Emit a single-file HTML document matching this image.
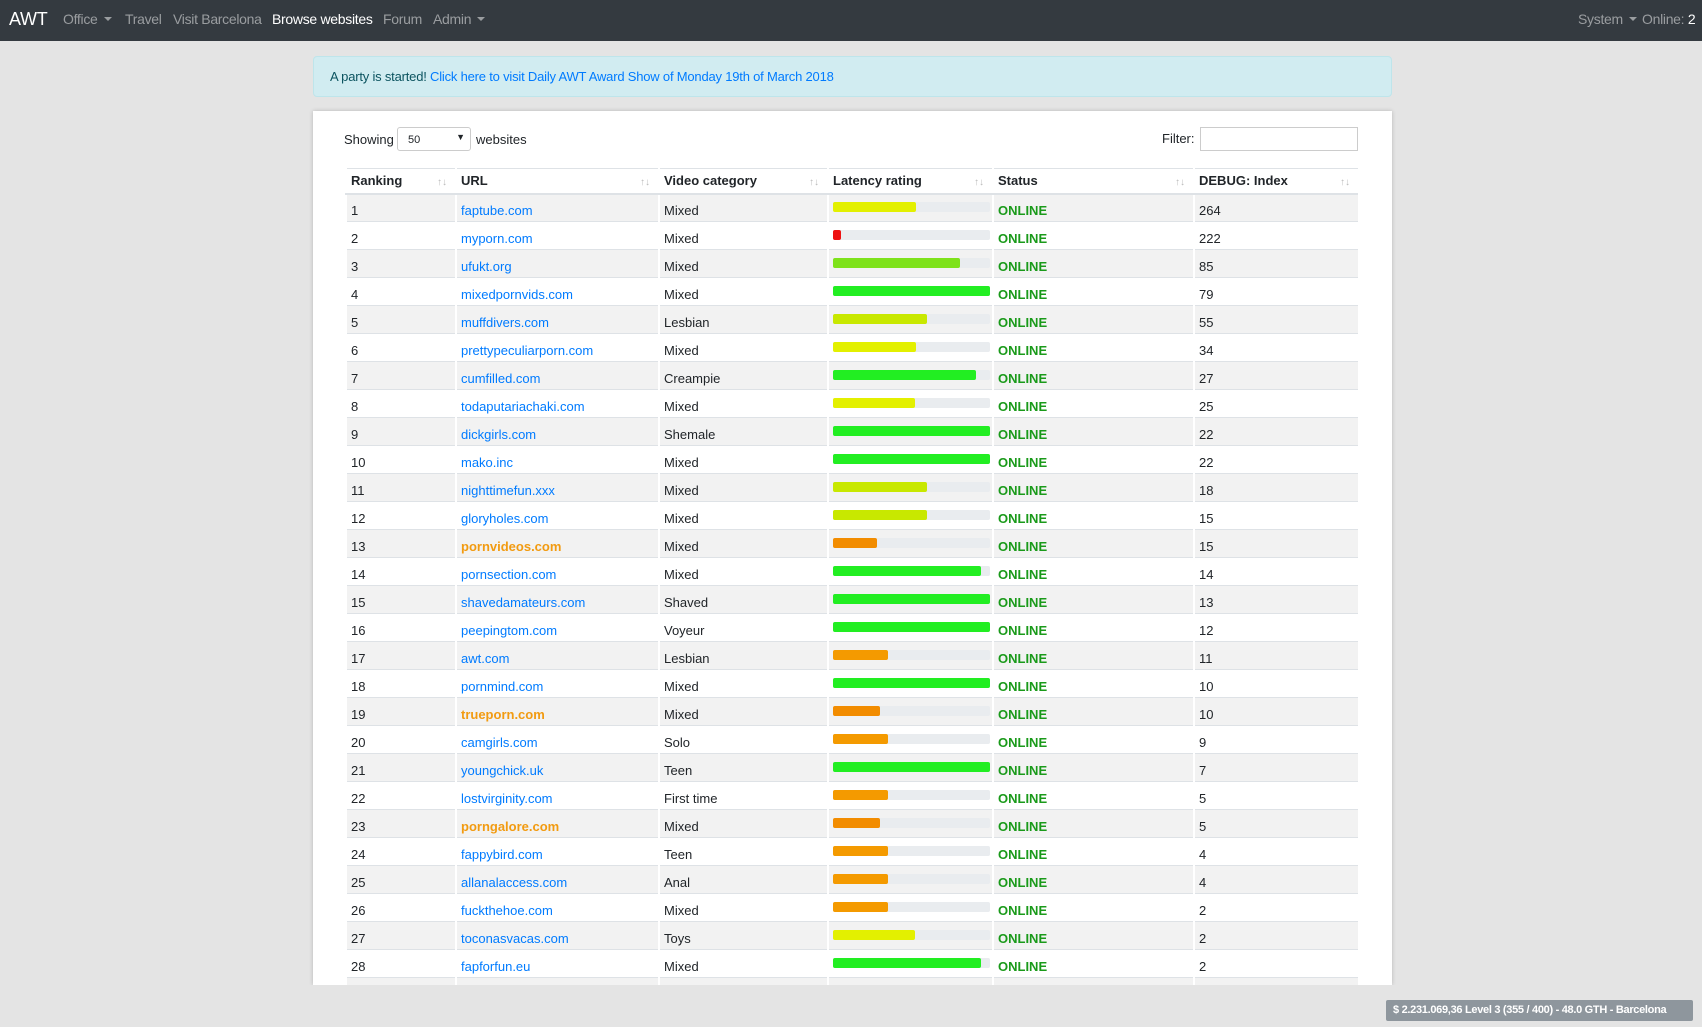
<!DOCTYPE html>
<html><head><meta charset="utf-8"><style>
*{box-sizing:border-box;margin:0;padding:0}
body{width:1702px;height:1027px;background:#e4e4e4;font-family:"Liberation Sans",sans-serif;font-size:13px;color:#212529;position:relative;overflow:hidden}
.nav{position:absolute;left:0;top:0;width:1702px;height:41px;background:#343a40}
.nav span{position:absolute;top:11px;font-size:14px;color:#9a9da0;letter-spacing:-0.3px}
.nav .b{color:#fff}
.car{display:inline-block;width:0;height:0;border-left:4px solid transparent;border-right:4px solid transparent;border-top:4px solid #9a9da0;margin-left:6px;vertical-align:3px}
.alert{position:absolute;left:313px;top:56px;width:1079px;height:41px;background:#d1ecf1;border:1px solid #bee5eb;border-radius:4px;padding:12px 16px;color:#0c5460;font-size:13px;letter-spacing:-0.2px}
a{color:#007bff;text-decoration:none}
.panel{position:absolute;left:313px;top:111px;width:1079px;height:874px;background:#fff;box-shadow:0 0 4px rgba(0,0,0,.2)}
.sel{position:absolute;left:397px;top:127px;width:74px;height:24px;border:1px solid #ccc;border-radius:3px;font-size:11px;padding:6px 10px}
.inp{position:absolute;left:1200px;top:127px;width:158px;height:24px;border:1px solid #ccc}
table{position:absolute;left:345px;top:168px;border-collapse:collapse;table-layout:fixed;width:1012px}
th{height:25px;text-align:left;font-weight:bold;padding:0 4px;border-top:1px solid #dee2e6;border-bottom:2px solid #dee2e6;border-left:2px solid #fff;position:relative}
th i{position:absolute;right:8px;top:8px;font-style:normal;color:#bbb;font-size:10px}
td{height:28px;padding:6px 4px 0;border-top:1px solid #dee2e6;border-left:2px solid #fff;vertical-align:middle;white-space:nowrap}
tr:nth-child(odd) td{background:#f2f2f2}
.on{color:#1a9a1a;font-weight:bold}
.o{color:#f29b11;font-weight:bold}
.tr{width:157px;height:10px;background:#e9ecef;border-radius:2px;position:relative;top:-4px}
.tr b{position:absolute;left:0;top:0;height:10px;border-radius:2px}
.foot{position:absolute;left:1386px;top:1000px;width:307px;height:21px;background:#8e969d;color:#fff;font-size:11px;font-weight:bold;padding:4px 7px;border-radius:2px;white-space:nowrap;letter-spacing:-0.3px}
</style></head><body>
<div class="nav">
<span class="b" style="left:9px;top:9px;font-size:18px">AWT</span>
<span style="left:63px">Office<i class="car"></i></span>
<span style="left:125px">Travel</span>
<span style="left:173px">Visit Barcelona</span>
<span class="b" style="left:272px">Browse websites</span>
<span style="left:383px">Forum</span>
<span style="left:433px">Admin<i class="car"></i></span>
<span style="left:1578px">System<i class="car"></i></span>
<span style="left:1642px">Online: <b style="color:#fff;font-weight:normal">2</b></span>
</div>
<div class="alert">A party is started! <a>Click here to visit Daily AWT Award Show of Monday 19th of March 2018</a></div>
<div class="panel"></div>
<div style="position:absolute;left:344px;top:132px">Showing</div>
<div class="sel">50<span style="position:absolute;right:5px;top:4px;font-size:9px">▼</span></div>
<div style="position:absolute;left:476px;top:132px">websites</div>
<div style="position:absolute;left:1162px;top:131px">Filter:</div>
<div class="inp"></div>
<table>
<colgroup><col style="width:110px"><col style="width:203px"><col style="width:169px"><col style="width:165px"><col style="width:201px"><col style="width:164px"></colgroup>
<thead><tr><th>Ranking<i>↑↓</i></th><th>URL<i>↑↓</i></th><th>Video category<i>↑↓</i></th><th>Latency rating<i>↑↓</i></th><th>Status<i>↑↓</i></th><th>DEBUG: Index<i>↑↓</i></th></tr></thead>
<tbody id="tb">
<tr><td>1</td><td><a>faptube.com</a></td><td>Mixed</td><td><div class="tr"><b style="width:53%;background:#e3f000"></b></div></td><td class="on">ONLINE</td><td>264</td></tr>
<tr><td>2</td><td><a>myporn.com</a></td><td>Mixed</td><td><div class="tr"><b style="width:5%;background:#ee1111"></b></div></td><td class="on">ONLINE</td><td>222</td></tr>
<tr><td>3</td><td><a>ufukt.org</a></td><td>Mixed</td><td><div class="tr"><b style="width:81%;background:#7ee21a"></b></div></td><td class="on">ONLINE</td><td>85</td></tr>
<tr><td>4</td><td><a>mixedpornvids.com</a></td><td>Mixed</td><td><div class="tr"><b style="width:100%;background:#22ee22"></b></div></td><td class="on">ONLINE</td><td>79</td></tr>
<tr><td>5</td><td><a>muffdivers.com</a></td><td>Lesbian</td><td><div class="tr"><b style="width:60%;background:#c8e800"></b></div></td><td class="on">ONLINE</td><td>55</td></tr>
<tr><td>6</td><td><a>prettypeculiarporn.com</a></td><td>Mixed</td><td><div class="tr"><b style="width:53%;background:#e3f000"></b></div></td><td class="on">ONLINE</td><td>34</td></tr>
<tr><td>7</td><td><a>cumfilled.com</a></td><td>Creampie</td><td><div class="tr"><b style="width:91%;background:#22ee22"></b></div></td><td class="on">ONLINE</td><td>27</td></tr>
<tr><td>8</td><td><a>todaputariachaki.com</a></td><td>Mixed</td><td><div class="tr"><b style="width:52%;background:#e3f000"></b></div></td><td class="on">ONLINE</td><td>25</td></tr>
<tr><td>9</td><td><a>dickgirls.com</a></td><td>Shemale</td><td><div class="tr"><b style="width:100%;background:#22ee22"></b></div></td><td class="on">ONLINE</td><td>22</td></tr>
<tr><td>10</td><td><a>mako.inc</a></td><td>Mixed</td><td><div class="tr"><b style="width:100%;background:#22ee22"></b></div></td><td class="on">ONLINE</td><td>22</td></tr>
<tr><td>11</td><td><a>nighttimefun.xxx</a></td><td>Mixed</td><td><div class="tr"><b style="width:60%;background:#c8e800"></b></div></td><td class="on">ONLINE</td><td>18</td></tr>
<tr><td>12</td><td><a>gloryholes.com</a></td><td>Mixed</td><td><div class="tr"><b style="width:60%;background:#c8e800"></b></div></td><td class="on">ONLINE</td><td>15</td></tr>
<tr><td>13</td><td><a class="o">pornvideos.com</a></td><td>Mixed</td><td><div class="tr"><b style="width:28%;background:#f28c00"></b></div></td><td class="on">ONLINE</td><td>15</td></tr>
<tr><td>14</td><td><a>pornsection.com</a></td><td>Mixed</td><td><div class="tr"><b style="width:94%;background:#22ee22"></b></div></td><td class="on">ONLINE</td><td>14</td></tr>
<tr><td>15</td><td><a>shavedamateurs.com</a></td><td>Shaved</td><td><div class="tr"><b style="width:100%;background:#22ee22"></b></div></td><td class="on">ONLINE</td><td>13</td></tr>
<tr><td>16</td><td><a>peepingtom.com</a></td><td>Voyeur</td><td><div class="tr"><b style="width:100%;background:#22ee22"></b></div></td><td class="on">ONLINE</td><td>12</td></tr>
<tr><td>17</td><td><a>awt.com</a></td><td>Lesbian</td><td><div class="tr"><b style="width:35%;background:#f49a00"></b></div></td><td class="on">ONLINE</td><td>11</td></tr>
<tr><td>18</td><td><a>pornmind.com</a></td><td>Mixed</td><td><div class="tr"><b style="width:100%;background:#22ee22"></b></div></td><td class="on">ONLINE</td><td>10</td></tr>
<tr><td>19</td><td><a class="o">trueporn.com</a></td><td>Mixed</td><td><div class="tr"><b style="width:30%;background:#f28c00"></b></div></td><td class="on">ONLINE</td><td>10</td></tr>
<tr><td>20</td><td><a>camgirls.com</a></td><td>Solo</td><td><div class="tr"><b style="width:35%;background:#f49a00"></b></div></td><td class="on">ONLINE</td><td>9</td></tr>
<tr><td>21</td><td><a>youngchick.uk</a></td><td>Teen</td><td><div class="tr"><b style="width:100%;background:#22ee22"></b></div></td><td class="on">ONLINE</td><td>7</td></tr>
<tr><td>22</td><td><a>lostvirginity.com</a></td><td>First time</td><td><div class="tr"><b style="width:35%;background:#f49a00"></b></div></td><td class="on">ONLINE</td><td>5</td></tr>
<tr><td>23</td><td><a class="o">porngalore.com</a></td><td>Mixed</td><td><div class="tr"><b style="width:30%;background:#f28c00"></b></div></td><td class="on">ONLINE</td><td>5</td></tr>
<tr><td>24</td><td><a>fappybird.com</a></td><td>Teen</td><td><div class="tr"><b style="width:35%;background:#f49a00"></b></div></td><td class="on">ONLINE</td><td>4</td></tr>
<tr><td>25</td><td><a>allanalaccess.com</a></td><td>Anal</td><td><div class="tr"><b style="width:35%;background:#f49a00"></b></div></td><td class="on">ONLINE</td><td>4</td></tr>
<tr><td>26</td><td><a>fuckthehoe.com</a></td><td>Mixed</td><td><div class="tr"><b style="width:35%;background:#f49a00"></b></div></td><td class="on">ONLINE</td><td>2</td></tr>
<tr><td>27</td><td><a>toconasvacas.com</a></td><td>Toys</td><td><div class="tr"><b style="width:52%;background:#e3f000"></b></div></td><td class="on">ONLINE</td><td>2</td></tr>
<tr><td>28</td><td><a>fapforfun.eu</a></td><td>Mixed</td><td><div class="tr"><b style="width:94%;background:#22ee22"></b></div></td><td class="on">ONLINE</td><td>2</td></tr>
<tr><td>&nbsp;</td><td></td><td></td><td></td><td></td><td></td></tr>
</tbody></table>
<div style="position:absolute;left:0;top:985px;width:1702px;height:42px;background:#e4e4e4"></div>
<div class="foot">$ 2.231.069,36 Level 3 (355 / 400) - 48.0 GTH - Barcelona</div>
</body></html>
